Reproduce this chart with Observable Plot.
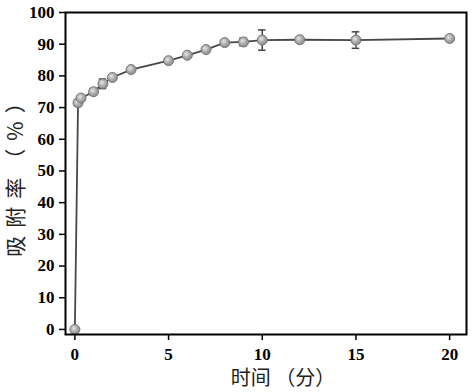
<!DOCTYPE html>
<html>
<head>
<meta charset="utf-8">
<script src="https://cdn.jsdelivr.net/npm/d3@7"></script>
<script src="https://cdn.jsdelivr.net/npm/@observablehq/plot@0.6"></script>
<style>
  html, body { margin: 0; padding: 0; background: #fff; }
</style>
</head>
<body>
<div id="chart"></div>
<script>
// Data
const times = [0, 0.17, 0.33, 1, 1.5, 2, 3, 5, 6, 7, 8, 9, 10, 12, 15, 20];
const adsorption = [0, 71.5, 73, 75, 77.5, 79.5, 82, 84.8, 86.5, 88.3, 90.5, 90.7, 91.3, 91.4, 91.3, 91.8];
const errors = [0, 1.0, 0.8, 1.0, 1.5, 0.8, 0.6, 0.6, 0.6, 0.7, 0.8, 1.2, 3.2, 0.6, 2.6, 0.6];
const xTicks = [0, 5, 10, 15, 20];
const yTicks = [0, 10, 20, 30, 40, 50, 60, 70, 80, 90, 100];
const xLabel = "时间 （分）";
const yLabel = "吸附率（%）";

const data = times.map((t, i) => ({t, v: adsorption[i], e: errors[i]}));
const errData = data.filter(d => d.e > 0);
const capHalf = 0.2;

const tickFont = "'Liberation Serif', 'Times New Roman', serif";
const labelFont = "'Noto Sans CJK SC', sans-serif";

const plot = Plot.plot({
  width: 474,
  height: 392,
  marginLeft: 65,
  marginRight: 8,
  marginTop: 12,
  marginBottom: 58,
  style: {background: "#fff", color: "#000"},
  x: {domain: [-0.5, 20.9]},
  y: {domain: [-1.6, 100]},
  marks: [
    Plot.axisY({ticks: yTicks, tickSize: 6, tickPadding: 5, tickFormat: d => d, label: null,
      fontSize: 17, fontWeight: "bold", fontFamily: tickFont, strokeWidth: 1.5}),
    Plot.axisX({ticks: xTicks, tickSize: 6, tickPadding: 7, tickFormat: d => d, label: null,
      fontSize: 17, fontWeight: "bold", fontFamily: tickFont, strokeWidth: 1.5}),
    Plot.text([yLabel], {frameAnchor: "left", lineAnchor: "middle", textAnchor: "middle", rotate: -90, dx: -49, dy: -3, fontSize: 21,
      fontFamily: labelFont, fill: "#222"}),
    Plot.text([xLabel], {frameAnchor: "bottom", lineAnchor: "middle", textAnchor: "middle", dy: 44, dx: 17, fontSize: 20,
      fontFamily: labelFont, fill: "#222"}),
    Plot.line(data, {x: "t", y: "v", stroke: "#474747", strokeWidth: 1.8}),
    Plot.ruleX(errData, {x: "t", y1: d => d.v - d.e, y2: d => d.v + d.e, stroke: "#444", strokeWidth: 1.5}),
    Plot.ruleY(errData, {y: d => d.v + d.e, x1: d => d.t - capHalf, x2: d => d.t + capHalf, stroke: "#444", strokeWidth: 1.5}),
    Plot.ruleY(errData, {y: d => d.v - d.e, x1: d => d.t - capHalf, x2: d => d.t + capHalf, stroke: "#444", strokeWidth: 1.5}),
    Plot.dot(data, {x: "t", y: "v", r: 5, fill: "url(#sphere)", stroke: "#777", strokeWidth: 1}),
    Plot.frame({stroke: "#000", strokeWidth: 2})
  ]
});

// radial gradient for sphere-like markers
const ns = "http://www.w3.org/2000/svg";
const defs = document.createElementNS(ns, "defs");
defs.innerHTML = `<radialGradient id="sphere" cx="40%" cy="38%" r="65%">
  <stop offset="0%" stop-color="#e6e6e6"/>
  <stop offset="55%" stop-color="#a9a9a9"/>
  <stop offset="100%" stop-color="#8a8a8a"/>
</radialGradient>`;
plot.insertBefore(defs, plot.firstChild);

// wider letter spacing on the rotated y label, as in the reference
d3.select(plot).selectAll("text").filter(function() { return this.textContent === yLabel; })
  .style("letter-spacing", "8px");

document.getElementById("chart").appendChild(plot);
</script>
</body>
</html>
